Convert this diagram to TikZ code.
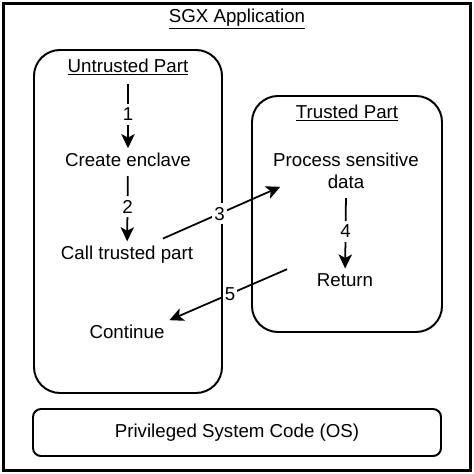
\documentclass[tikz,border=0pt]{standalone}
\usepackage{fontspec}
\setmainfont{Liberation Sans}
\usetikzlibrary{arrows.meta,calc}

\tikzset{
    every node/.style={font=\fontsize{13.3}{15.6}\selectfont},
    part/.style={draw, line width=1.4pt, rounded corners=0.65cm},
    flow/.style={-{Stealth[length=10pt,width=9.5pt,inset=2.5pt]}, line width=1.25pt, shorten <=3pt},
    num/.style={fill=white, inner xsep=1.5pt, inner ysep=3pt},
}

\begin{document}
\begin{tikzpicture}[x=0.025cm, y=-0.025cm]
    \useasboundingbox (0,0) rectangle (474,474);

    % Application frame
    \draw[line width=2.4pt] (3.5,3.5) rectangle (470.5,470.5);
    \node (app) at (237,19) {\underline{SGX Application}};

    % Untrusted part
    \draw[part] (34,50) rectangle (222,393);
    \node (untrusted) at (128,67) {\underline{Untrusted Part}};
    \node (create) at (128,160) {Create enclave};
    \node (call) at (127,255) {Call trusted part};
    \node (continue) at (127,332) {Continue};

    % Trusted part
    \draw[part] (252,96) rectangle (442,332);
    \node (trusted) at (347,113) {\underline{Trusted Part}};
    \node[align=center] (process) at (346,171) {Process sensitive\\data};
    \node (return) at (345,280) {Return};

    % OS
    \draw[part, rounded corners=0.2cm] (33,409) rectangle (441,456);
    \node (os) at (237,433) {Privileged System Code (OS)};

    % Steps
    \draw[flow] (untrusted) -- node[num] {1} (create);
    \draw[flow] (create) -- node[num] {2} (call);
    \draw[flow] ($(call.north)+(32,-1)$) -- node[num] {3} ($(process.south west)+(12,-7)$);
    \draw[flow] (process.south) -- node[num] {4} (return);
    \draw[flow] ($(return.north west)+(-21,-1)$) -- node[num] {5} (continue.north east);
\end{tikzpicture}
\end{document}
